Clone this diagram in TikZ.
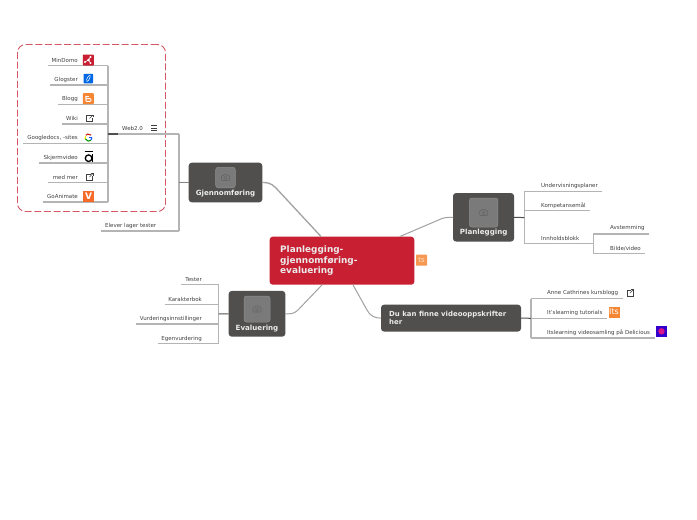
\documentclass[tikz,border=0pt]{standalone}
\usepackage{fontspec}
\setmainfont{DejaVu Sans}
\definecolor{nodedark}{HTML}{504F4E}
\definecolor{nodered}{HTML}{C81F32}
\definecolor{lineg}{HTML}{B4B4B4}
\definecolor{txt}{HTML}{404040}
\definecolor{its}{HTML}{F58634}
\newcommand{\boxnode}[7]{% name, cx, cy, w, h, fill, radius
  \node[draw=none,fill=#6,rounded corners=#7pt,minimum width=#4pt,minimum height=#5pt,inner sep=0pt] (#1) at (#2,#3) {};}
\tikzset{
  leaf/.style={font=\fontsize{5.5}{6.5}\selectfont,text=txt,inner sep=0pt},
  leafL/.style={leaf,anchor=west},
  leafR/.style={leaf,anchor=east},
  boldw/.style={font=\fontsize{7.1}{8.2}\selectfont\bfseries,text=white!92!black,inner sep=0pt},
  branch/.style={draw=lineg,line width=1.1pt},
  stem/.style={draw=nodedark,line width=1pt},
  link/.style={draw=lineg!90!black,line width=1pt,line cap=round},
  pics/linkicon/.style={code={
    \draw[txt,line width=0.45pt] (1,-3) -- (-3,-3) -- (-3,3) -- (3,3) -- (3,-1);
    \draw[txt,line width=0.45pt] (0,0) -- (3.4,-3.4);
    \draw[txt,line width=0.45pt] (1.4,-3.6) -- (3.6,-3.6) -- (3.6,-1.4);
  }},
  pics/cameraicon/.style={code={
    \draw[#1,line width=0.6pt,rounded corners=0.8pt] (-4,-2) -- (-2,-2) -- (-1.2,-3.2) -- (1.2,-3.2) -- (2,-2) -- (4,-2) -- (4,3) -- (-4,3) -- cycle;
    \draw[#1,line width=0.6pt] (0,0.4) circle (1.6);
  }},
  imgbox/.style={fill=camfill,draw=camedge,line width=0.5pt,rounded corners=2.5pt,inner sep=0pt}
}
\definecolor{camfill}{HTML}{7A7A7A}
\definecolor{camedge}{HTML}{8E8E8E}
\definecolor{camline}{HTML}{666666}
\begin{document}
\begin{tikzpicture}[x=1pt,y=-1pt]
\useasboundingbox[fill=white] (0,0) rectangle (697,520);

% dashed container
\node[draw=nodered!75!white,line width=0.9pt,dash pattern=on 7pt off 2.6pt,rounded corners=8pt,minimum width=148pt,minimum height=167pt,inner sep=0pt] (frame) at (91.5,128) {};

% main nodes
\boxnode{root}{342}{260.7}{144.6}{48}{nodered}{3}
\boxnode{gjen}{225.5}{182.5}{73.6}{39.6}{nodedark}{3}
\boxnode{plan}{483.5}{217.3}{61}{48.5}{nodedark}{3}
\boxnode{eval}{257}{313.8}{56.6}{45.7}{nodedark}{3}
\boxnode{video}{451}{318.1}{140}{26.8}{nodedark}{3}

% connectors from the root
\path (root.north)+(-21,0) coordinate (r1);
\path (root.north)+(58,0) coordinate (r2);
\path (root.south)+(-20,0) coordinate (r3);
\path (root.south)+(11,0) coordinate (r4);
\draw[link,line width=1.3pt] (r1) -- (275.5,187.5) .. controls (271,183) and (267,182.5) .. (gjen.east);
\draw[link] (r2) -- (442,218.5) .. controls (446,217.2) and (449,217.3) .. (plan.west);
\draw[link] (r3) -- (298,310) .. controls (294,314) and (290,314) .. (eval.east);
\draw[link] (r4) -- (367,310) .. controls (370,316) and (375,318.1) .. (video.west);

% images and labels in nodes
\node[imgbox,minimum width=19.6pt,minimum height=20.5pt] (gjenimg) at (225.5,177.5) {};
\pic at (gjenimg.center) {cameraicon=camline};
\node[boldw,anchor=center] (gjentxt) at (225.5,193.9) {Gjennomføring};
\node[imgbox,minimum width=28.5pt,minimum height=29pt] (planimg) at (483.7,212.5) {};
\pic at (planimg.center) {cameraicon=camline};
\node[boldw,anchor=center] (plantxt) at (483.7,232.9) {Planlegging};
\node[imgbox,minimum width=26pt,minimum height=26pt] (evalimg) at (257,309) {};
\pic at (evalimg.center) {cameraicon=camline};
\node[boldw,anchor=center] (evaltxt) at (257,328.6) {Evaluering};
\node[boldw,anchor=north west,align=left,font=\fontsize{8.9}{10.9}\selectfont\bfseries] (roottxt) at (280,245.2) {Planlegging-\\gjennomføring-\\evaluering};
\node[boldw,anchor=north west,align=left,font=\fontsize{6.95}{8}\selectfont\bfseries] (videotxt) at (389,311) {Du kan finne videooppskrifter\\her};

% root icon
\node[fill=its!85!white,rounded corners=0.6pt,minimum size=11pt,inner sep=0pt,font=\fontsize{7}{7}\selectfont,text=white!75!its] (rooticon) at (421.5,260.2) {ts};

% Gjennomforing branch
\coordinate (gb) at (179,182.5);
\coordinate (gt) at (179,134);
\coordinate (gu) at (179,231);
\coordinate (wj) at (108,134);
\draw[branch] (gt) -- (gu);
\draw[stem,draw=gray] (gjen.west) -- (gb);
\draw[branch] (wj) -- (gt);
\coordinate (elevl) at (101,231);
\draw[branch] (gu) -- (elevl);
\node[leafL] (elev) at (105,226.3) {Elever lager tester};
\node[leafL] (web) at (122,128.6) {Web2.0};
\node[inner sep=0pt,minimum size=7pt] (menu) at (154,128) {};
\draw[txt,line width=0.6pt] (menu.center)+(-3,-2.4) -- +(3,-2.4) +(-3,0) -- +(3,0) +(-3,2.4) -- +(3,2.4);

% Web2.0 leaves
\coordinate (vt) at (108,65.7);
\coordinate (vb) at (108,202);
\draw[branch] (vt) -- (vb);
\draw[stem,line width=1.2pt] (wj) -- +(10,0);
\foreach \yy/\ll/\tt/\nn in {65.7/48/MinDomo/a,85/50/Glogster/b,104.5/58/Blogg/c,124/62/Wiki/d,143.5/23/{Googledocs, -sites}/e,163/39/Skjermvideo/f,182.5/48/med mer/g,202/43/GoAnimate/h}{
  \coordinate (l\nn) at (\ll,\yy);
  \coordinate (r\nn) at (108,\yy);
  \draw[branch] (l\nn) -- (r\nn);
  \node[leafR] (t\nn) at (78,\yy-5.2) {\tt};
}

% web icons
\node[fill=nodered,rounded corners=0.8pt,minimum size=11pt,inner sep=0pt] (i1) at (88.3,60) {};
\fill[white] (85,62) circle (1.1) (88.5,60) circle (1.4) (90.5,57) circle (1.1) (90.5,63) circle (1);
\draw[white,line width=0.6pt] (85,62) -- (88.5,60) -- (90.5,57) (88.5,60) -- (90.5,63);
\node[fill=blue!55!cyan!90!black,rounded corners=0.6pt,minimum size=9.5pt,inner sep=0pt] (i2) at (88.3,78.5) {};
\draw[white,line width=0.5pt] (87,81.5) .. controls (85.5,79) and (89,75) .. (90,75.5) .. controls (91,76.5) and (88.5,81.5) .. (87,81.5);
\node[fill=its,rounded corners=0.8pt,minimum size=11pt,inner sep=0pt] (i3) at (88.3,98.7) {};
\draw[white,line width=0.9pt,rounded corners=0.8pt] (85.8,95.9) -- (85.8,101.4) -- (91,101.4) -- (91,98.6) -- (85.8,98.6);
\draw[white,line width=0.9pt] (85.8,96.2) -- (89.2,96.2);
\pic at (89.5,118.5) {linkicon};
\pic at (89.5,177) {linkicon};
% Google G
\coordinate (i5) at (88.5,137.5);
\draw[line width=1.1pt,red!75!black!80!orange] (i5)+(2.6,-2.4) arc[start angle=-43,end angle=-140,radius=3.5];
\draw[line width=1.1pt,yellow!85!orange] (i5)+(-3.1,-1.6) arc[start angle=-150,end angle=-205,radius=3.5];
\draw[line width=1.1pt,green!60!black] (i5)+(-3.1,1.6) arc[start angle=155,end angle=50,radius=3.5];
\draw[line width=1.1pt,blue!65!cyan] (i5)+(2.4,2.6) arc[start angle=45,end angle=0,radius=3.5];
\draw[line width=1.1pt,blue!65!cyan] (i5) -- +(3.5,0);
% Skjermvideo icon
\coordinate (i6) at (88.6,158.2);
\draw[black,line width=1.3pt] (i6) circle (3.3);
\draw[black,line width=1.3pt] (92.3,154.2) -- (92.3,162.3);
\draw[black,line width=1pt] (84.6,151.7) -- (93,151.7);
% GoAnimate icon
\node[fill=its!80!red,minimum size=11pt,inner sep=0pt,font=\fontsize{9}{9}\selectfont\bfseries,text=white] (i8) at (88.5,196) {V};

% Planlegging branch
\coordinate (pm) at (524.3,217.6);
\coordinate (pt) at (524.3,191.3);
\coordinate (pb) at (524.3,243.7);
\draw[branch] (pt) -- (pb);
\draw[stem] (plan.east) -- (pm);
\coordinate (p1) at (601.5,191.3);
\coordinate (p2) at (590,210.5);
\coordinate (p2a) at (524.3,210.5);
\coordinate (p3) at (593.3,243.7);
\draw[branch] (pt) -- (p1);
\draw[branch] (p2a) -- (p2);
\draw[branch] (pb) -- (p3);
\node[leafL] (t1) at (541,186.3) {Undervisningsplaner};
\node[leafL] (t2) at (541,205.3) {Kompetansemål};
\node[leafL] (t3) at (541,238.3) {Innholdsblokk};
\coordinate (q1) at (593.3,234);
\coordinate (q2) at (593.3,253.3);
\coordinate (q1e) at (648.7,234);
\coordinate (q2e) at (645,253.3);
\draw[branch] (q1) -- (q2);
\draw[branch] (q1) -- (q1e);
\draw[branch] (q2) -- (q2e);
\node[leafL] (t4) at (610,228.3) {Avstemming};
\node[leafL] (t5) at (610,248.3) {Bilde/video};

% Evaluering branch
\coordinate (em) at (218.7,314);
\coordinate (et) at (218.7,284.7);
\coordinate (eb) at (218.7,343.3);
\coordinate (e2) at (218.7,304.5);
\coordinate (e3) at (218.7,324);
\draw[branch] (et) -- (eb);
\draw[stem] (eval.west) -- (em);
\coordinate (e1l) at (181,284.7);
\coordinate (e2l) at (165,304.5);
\coordinate (e3l) at (136,324);
\coordinate (e4l) at (158,343.3);
\draw[branch] (et) -- (e1l);
\draw[branch] (e2) -- (e2l);
\draw[branch] (e3) -- (e3l);
\draw[branch] (eb) -- (e4l);
\node[leafR] (u1) at (202,279.5) {Tester};
\node[leafR] (u2) at (202,299.5) {Karakterbok};
\node[leafR] (u3) at (202,318.5) {Vurderingsinnstillinger};
\node[leafR] (u4) at (202,338.5) {Egenvurdering};

% Video branch
\coordinate (vm) at (531,318.3);
\coordinate (vtt) at (531,298.7);
\coordinate (vbb) at (531,338);
\draw[branch] (vtt) -- (vbb);
\draw[stem] (video.east) -- (vm);
\coordinate (v1) at (622.7,298.7);
\coordinate (v2) at (607,318.3);
\coordinate (v3) at (655,338);
\draw[branch] (vtt) -- (v1);
\draw[branch] (vm) -- (v2);
\draw[branch] (vbb) -- (v3);
\node[leafL] (w1) at (547,293.3) {Anne Cathrines kursblogg};
\node[leafL] (w2) at (547,313.3) {It'slearning tutorials};
\node[leafL] (w3) at (547,332.3) {Itslearning videosamling på Delicious};
\pic at (630,293) {linkicon};
\node[fill=its,minimum size=11pt,inner sep=0pt,font=\fontsize{8}{8}\selectfont,text=white] (w2i) at (614,312) {Its};
\node[fill=blue!60!violet,minimum size=11pt,inner sep=0pt] (w3i) at (661.5,331.3) {};
\fill[magenta!80!violet] (661.5,331.3) circle (3.2);
\end{tikzpicture}
\end{document}
